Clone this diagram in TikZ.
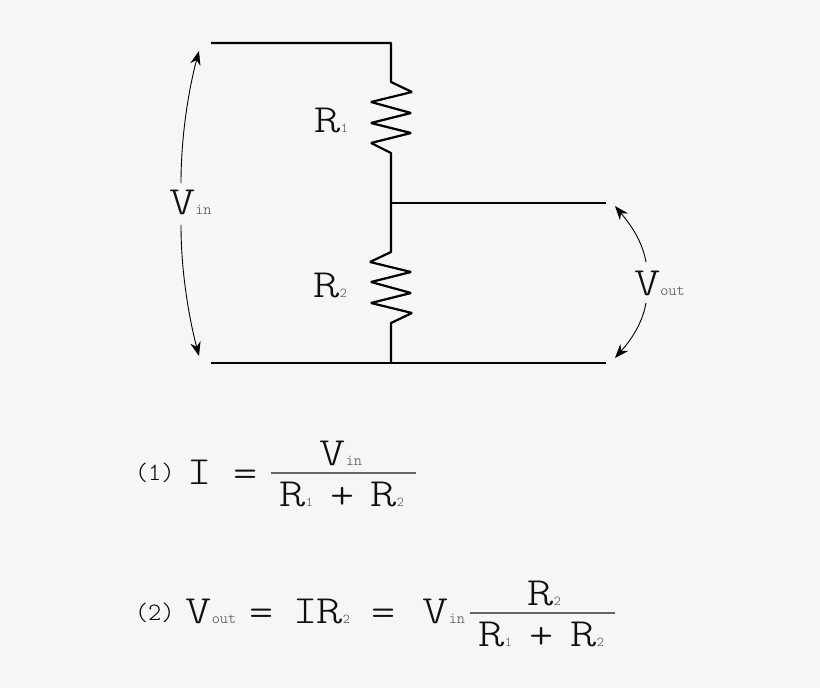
\documentclass[tikz,border=0pt]{standalone}
\usepackage{fontspec}
\usetikzlibrary{arrows.meta}
\newfontfamily\bigmono[FakeStretch=1.25]{Latin Modern Mono Light}
\newfontfamily\opmono[FakeStretch=1.15]{Latin Modern Mono Light}
\newfontfamily\smallmono{Latin Modern Mono Light}
\definecolor{bgc}{HTML}{F6F6F6}
\definecolor{ink}{HTML}{101010}
\definecolor{subc}{HTML}{4A4A4A}
\newcommand{\bigt}{\fontsize{40}{40}\selectfont\bigmono}
\newcommand{\opt}{\fontsize{40}{40}\selectfont\opmono}
\newcommand{\subin}[1]{{\fontsize{15.5}{15.5}\selectfont\smallmono\color{subc}#1}}
\newcommand{\subnum}[1]{{\fontsize{13.5}{13.5}\selectfont\smallmono\color{subc}#1}}
\tikzset{
  wire/.style={line width=2.2pt,color=black,line join=bevel},
  span/.style={line width=0.9pt,color=black,-{Stealth[length=14pt,width=10.5pt]}},
  fracbar/.style={line width=1.1pt,color=black!60},
  lab/.style={inner sep=0pt,outer sep=0pt,anchor=base west,text=ink},
  eqno/.style={lab,text=black,font=\fontsize{25}{25}\selectfont\smallmono}
}
\begin{document}
\begin{tikzpicture}[x=1pt,y=-1pt]
\useasboundingbox[fill=bgc] (0,0) rectangle (820,688);
% circuit points
\coordinate (tl) at (211,43);
\coordinate (tj) at (391,43);
\coordinate (r1a) at (391,82);
\coordinate (r1b) at (391,153);
\coordinate (mid) at (391,203);
\coordinate (mr) at (606,203);
\coordinate (r2a) at (391,252);
\coordinate (r2b) at (391,323);
\coordinate (bj) at (391,363);
\coordinate (bl) at (211,363);
\coordinate (br) at (606,363);
\draw[wire] (tl) -- (tj) -- (r1a) -- (412,92) -- (371,102) -- (411,113) -- (371,123) -- (411,133) -- (371,143) -- (r1b) -- (mid) -- (r2a) -- (370,262) -- (411,272) -- (371,282) -- (411,293) -- (371,303) -- (412,313) -- (r2b) -- (bj);
\draw[wire] (mid) -- (mr);
\draw[wire] (bl) -- (br);
% span arrows
\coordinate (a1s) at (181,183);
\coordinate (a1e) at (199,51);
\coordinate (a2s) at (181,225);
\coordinate (a2e) at (199,356);
\coordinate (a3s) at (646,262);
\coordinate (a3e) at (615,206);
\coordinate (a4s) at (646,303);
\coordinate (a4e) at (615,358);
\draw[span] (a1s) .. controls (181,135) and (189,88) .. (a1e);
\draw[span] (a2s) .. controls (181,272) and (189,318) .. (a2e);
\draw[span] (a3s) .. controls (642,240) and (630,224) .. (a3e);
\draw[span] (a4s) .. controls (642,325) and (630,341) .. (a4e);
% circuit labels
\node[lab] (vin) at (169,214) {\bigt V\subin{in}};
\node[lab] (r1) at (314.5,132) {\bigt R\subnum{1}};
\node[lab] (r2) at (313.5,297) {\bigt R\subnum{2}};
\node[lab] (vout) at (634,295) {\bigt V\subin{out}};
% equation 1
\node[eqno] (n1) at (135,480) {(1)};
\node[lab] (e1i) at (187,484) {\opt I};
\node[lab] (e1eq) at (233.5,486) {\opt =};
\node[lab] (e1v) at (319.5,465) {\bigt V\subin{in}};
\draw[fracbar] (271,473) -- (416,473);
\node[lab] (e1r1) at (279.5,506) {\bigt R\subnum{1}};
\node[lab] (e1p) at (330,508) {\opt +};
\node[lab] (e1r2) at (370.5,506) {\bigt R\subnum{2}};
% equation 2
\node[eqno] (n2) at (135,620) {(2)};
\node[lab] (e2v) at (185.5,623) {\bigt V\subin{out}};
\node[lab] (e2eq) at (249.5,625.5) {\opt =};
\node[lab] (e2i) at (293,623) {\opt I};
\node[lab] (e2r) at (316.5,623) {\bigt R\subnum{2}};
\node[lab] (e2eqb) at (371,625.5) {\opt =};
\node[lab] (e2vb) at (422.5,623) {\bigt V\subin{in}};
\draw[fracbar] (470,613) -- (615,613);
\node[lab] (e2rn) at (527.5,605) {\bigt R\subnum{2}};
\node[lab] (e2r1) at (478.5,646) {\bigt R\subnum{1}};
\node[lab] (e2p) at (529,648) {\opt +};
\node[lab] (e2r2) at (570.5,646) {\bigt R\subnum{2}};
\end{tikzpicture}
\end{document}
